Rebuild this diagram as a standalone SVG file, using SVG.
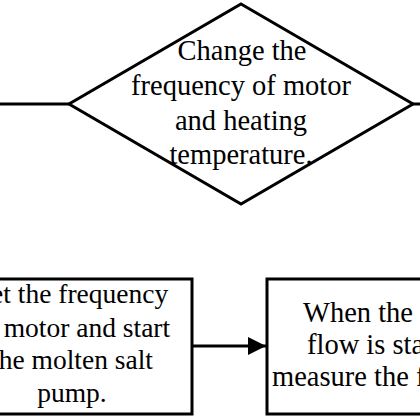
<svg xmlns="http://www.w3.org/2000/svg" width="420" height="420" viewBox="0 0 420 420">
<style>
.shape{fill:#fff;stroke:#000;stroke-width:3}
.conn{fill:none;stroke:#000;stroke-width:3}
text{font-family:"Liberation Serif","Times New Roman",serif;font-size:27.5px;fill:#000}
.c{text-anchor:middle}
.w{font-size:28.5px}
</style>
<defs>
<marker id="ah" markerWidth="20" markerHeight="18" refX="18" refY="9" orient="auto" markerUnits="userSpaceOnUse">
<path d="M0,0 L18,9 L0,18 Z" fill="#000"/>
</marker>
</defs>
<rect width="420" height="420" fill="#fff"/>
<g id="connectors">
<line class="conn" x1="0" y1="104" x2="69" y2="104"/>
<line class="conn" x1="413" y1="104" x2="422" y2="104"/>
<line class="conn" x1="192" y1="346" x2="266" y2="346" marker-end="url(#ah)"/>
</g>
<g id="decision">
<polygon class="shape" points="241,4 413,104 241,204 69,104"/>
<text class="c w" x="242" y="60">Change the</text>
<text class="c w" x="241" y="95">frequency of motor</text>
<text class="c w" x="241" y="130">and heating</text>
<text class="c w" x="241" y="164">temperature.</text>
</g>
<g id="setFrequency">
<rect class="shape" x="-50" y="279" width="242" height="135"/>
<text class="c" x="72" y="303">Set the frequency</text>
<text class="c" x="72" y="337">of motor and start</text>
<text class="c" x="72" y="369">the molten salt</text>
<text class="c" x="72" y="402">pump.</text>
</g>
<g id="measureFlow">
<rect class="shape" x="267" y="279" width="250" height="135"/>
<text class="w" x="303" y="322">When the molten salt</text>
<text class="w" x="307" y="354">flow is stable,</text>
<text class="w" x="272" y="386">measure the flow rate.</text>
</g>
</svg>
